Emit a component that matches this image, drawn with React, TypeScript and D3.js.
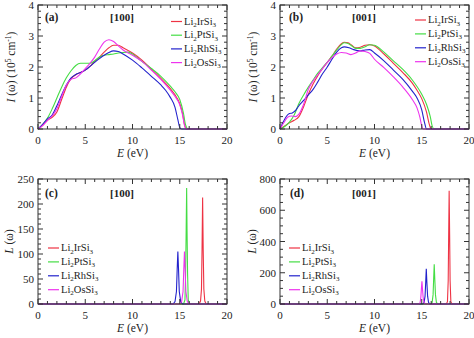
import React from "react";
import * as d3 from "d3";

type P = [number, number];

const names = ["Li2IrSi3", "Li2PtSi3", "Li2RhSi3", "Li2OsSi3"];
const colors = ["#ee3344", "#44dd44", "#2222cc", "#ee33ee"];

// Panel (a): I(w) [100], 10^5 cm^-1
const aIr: P[] = [[0,0],[0.5,0.12],[1,0.28],[1.5,0.38],[2,0.55],[2.5,0.95],[3,1.35],[3.5,1.62],[4,1.75],[4.5,1.82],[5,1.9],[5.5,2.02],[6,2.18],[6.5,2.32],[7,2.48],[7.5,2.62],[8,2.7],[8.5,2.7],[9,2.62],[10,2.45],[11,2.22],[12,1.93],[13,1.63],[14,1.3],[14.5,1.1],[15,0.82],[15.3,0.5],[15.5,0.15],[15.7,0],[20,0]];
const aPt: P[] = [[0,0],[0.5,0.15],[1,0.35],[1.5,0.65],[2,1.0],[2.5,1.35],[3,1.65],[3.5,1.88],[4,2.05],[4.5,2.12],[5,2.12],[5.5,2.12],[6,2.2],[6.5,2.32],[7,2.38],[7.5,2.4],[8,2.42],[8.5,2.45],[9,2.47],[9.5,2.48],[10,2.42],[10.5,2.3],[11,2.18],[12,1.95],[13,1.7],[14,1.38],[14.5,1.2],[15,0.95],[15.4,0.5],[15.6,0.15],[15.9,0],[20,0]];
const aRh: P[] = [[0,0],[0.5,0.15],[1,0.33],[1.5,0.45],[2,0.75],[2.5,1.1],[3,1.42],[3.5,1.65],[4,1.76],[4.5,1.82],[5,1.9],[5.5,2.02],[6,2.15],[6.5,2.27],[7,2.38],[7.5,2.47],[8,2.52],[8.5,2.5],[9,2.42],[10,2.22],[11,1.97],[12,1.7],[13,1.42],[13.5,1.25],[14,1.02],[14.5,0.7],[14.8,0.3],[15,0.05],[15.2,0],[20,0]];
const aOs: P[] = [[0,0],[0.5,0.12],[1,0.28],[1.5,0.42],[2,0.65],[2.5,1.05],[3,1.42],[3.5,1.6],[4,1.65],[4.5,1.78],[5,1.95],[5.5,2.12],[6,2.32],[6.5,2.58],[7,2.8],[7.5,2.88],[8,2.82],[8.5,2.68],[9,2.55],[10,2.38],[11,2.18],[12,1.9],[13,1.6],[14,1.25],[14.5,1.05],[15,0.78],[15.3,0.45],[15.5,0.12],[15.7,0],[20,0]];

// Panel (b): I(w) [001]
const bIr: P[] = [[0,0],[0.5,0.1],[1,0.2],[1.5,0.28],[2,0.4],[2.5,0.72],[3,1.12],[3.5,1.45],[4,1.72],[4.5,1.95],[5,2.15],[5.5,2.35],[6,2.58],[6.5,2.75],[6.8,2.8],[7.2,2.78],[7.6,2.7],[8,2.62],[8.5,2.64],[9,2.7],[9.5,2.72],[10,2.68],[11,2.42],[12,2.12],[13,1.82],[14,1.48],[14.5,1.25],[15,0.98],[15.5,0.55],[15.8,0.15],[16,0],[20,0]];
const bPt: P[] = [[0,0],[0.5,0.08],[1,0.22],[1.5,0.45],[2,0.82],[2.5,1.1],[3,1.35],[3.5,1.58],[4,1.8],[4.5,1.98],[5,2.15],[5.5,2.35],[6,2.55],[6.5,2.72],[6.8,2.78],[7.2,2.76],[7.6,2.68],[8,2.6],[8.5,2.6],[9,2.65],[9.5,2.72],[10,2.7],[11,2.48],[12,2.2],[13,1.92],[14,1.58],[15,1.12],[15.5,0.8],[15.9,0.4],[16.1,0.1],[16.3,0],[20,0]];
const bRh: P[] = [[0,0],[0.3,0.2],[0.7,0.42],[1,0.5],[1.3,0.52],[1.7,0.62],[2,0.75],[2.5,0.92],[3,1.1],[3.5,1.28],[4,1.52],[4.5,1.78],[5,2.0],[5.5,2.25],[6,2.48],[6.5,2.62],[6.8,2.65],[7.3,2.62],[7.8,2.56],[8.5,2.52],[9,2.55],[9.5,2.56],[10,2.45],[11,2.2],[12,1.9],[13,1.6],[14,1.22],[14.5,1.0],[15,0.62],[15.3,0.2],[15.5,0],[20,0]];
const bOs: P[] = [[0,0],[0.4,0.2],[0.8,0.38],[1.2,0.42],[1.6,0.4],[2,0.48],[2.5,0.8],[3,1.28],[3.5,1.55],[4,1.75],[4.5,1.95],[5,2.15],[5.5,2.3],[6,2.42],[6.5,2.47],[7,2.45],[7.5,2.4],[8,2.45],[8.5,2.52],[9,2.5],[9.5,2.44],[10,2.25],[11,1.98],[12,1.68],[13,1.35],[14,0.95],[14.5,0.68],[14.8,0.38],[15,0.1],[15.15,0],[20,0]];

// Panel (c): L(w) [100]
const cIr: P[] = [[0,0],[17.05,0],[17.2,6],[17.3,30],[17.36,110],[17.42,213],[17.48,110],[17.55,30],[17.65,6],[17.8,0],[20,0]];
const cPt: P[] = [[0,0],[15.4,0],[15.55,8],[15.62,60],[15.68,150],[15.73,232],[15.77,150],[15.83,60],[15.9,8],[16.05,0],[20,0]];
const cRh: P[] = [[0,0],[14.3,0],[14.5,5],[14.65,25],[14.73,70],[14.8,105],[14.87,70],[14.95,25],[15.1,5],[15.3,0],[20,0]];
const cOs: P[] = [[0,0],[15.0,0],[15.2,5],[15.35,25],[15.43,70],[15.5,105],[15.57,70],[15.65,25],[15.8,5],[16.0,0],[20,0]];

// Panel (d): L(w) [001]
const dIr: P[] = [[0,0],[17.6,0],[17.72,15],[17.8,150],[17.85,450],[17.9,725],[17.95,450],[18.0,150],[18.08,15],[18.2,0],[20,0]];
const dPt: P[] = [[0,0],[15.95,0],[16.1,10],[16.2,60],[16.26,160],[16.32,255],[16.38,160],[16.45,60],[16.55,10],[16.7,0],[20,0]];
const dRh: P[] = [[0,0],[15.1,0],[15.25,10],[15.35,50],[15.42,140],[15.48,225],[15.54,140],[15.62,50],[15.72,10],[15.85,0],[20,0]];
const dOs: P[] = [[0,0],[14.7,0],[14.82,8],[14.9,40],[14.96,95],[15.02,145],[15.08,95],[15.15,40],[15.25,8],[15.4,0],[20,0]];

const xTicks = [0, 5, 10, 15, 20];
const iTicks = [0, 1, 2, 3, 4];
const cTicks = [0, 50, 100, 150, 200, 250];
const dTicks = [0, 200, 400, 600, 800];

const FONT = "Liberation Serif, Times New Roman, DejaVu Serif, serif";

interface PanelProps {
  x0: number; x1: number; y0: number; y1: number;
  yMax: number; yTicks: number[]; yMinor: number;
  series: P[][];
  tag: string; dir: string;
  yLabel: "I" | "L";
  ylabX: number;
  legX: number; legY: number; legDy: number;
  tagX: number; dirX: number; tagY: number;
  curve: any;
}

function Formula({ base, x, y }: { base: number; x: number; y: number }) {
  const metal = names[base].slice(3, 5);
  return (
    <text x={x} y={y} fontSize={10.5} fill="#222">
      Li<tspan fontSize={7} dy={2.5}>2</tspan>
      <tspan dy={-2.5}>{metal}Si</tspan>
      <tspan fontSize={7} dy={2.5}>3</tspan>
    </text>
  );
}

function Panel(p: PanelProps) {
  const xs = d3.scaleLinear().domain([0, 20]).range([p.x0, p.x1]);
  const ys = d3.scaleLinear().domain([0, p.yMax]).range([p.y0, p.y1]);
  const line = d3.line<P>().x((d) => xs(d[0])).y((d) => ys(d[1])).curve(p.curve);
  const xMinor = d3.range(0, 20.001, 1);
  const yMinor = d3.range(0, p.yMax + 1e-6, p.yMinor);
  const tk = (v: number, arr: number[]) => arr.some((t) => Math.abs(t - v) < 1e-6);
  return (
    <g>
      {p.series.map((s, i) => (
        <path key={i} d={line(s) || ""} fill="none" stroke={colors[i]} strokeWidth={1.1} />
      ))}
      <rect x={p.x0} y={p.y1} width={p.x1 - p.x0} height={p.y0 - p.y1} fill="none" stroke="#333" strokeWidth={1} />
      {xMinor.map((v) => {
        const L = tk(v, xTicks) ? 5 : 3;
        return (
          <g key={"x" + v}>
            <line x1={xs(v)} x2={xs(v)} y1={p.y0} y2={p.y0 - L} stroke="#333" />
            <line x1={xs(v)} x2={xs(v)} y1={p.y1} y2={p.y1 + L} stroke="#333" />
          </g>
        );
      })}
      {yMinor.map((v) => {
        const L = tk(v, p.yTicks) ? 5 : 3;
        return (
          <g key={"y" + v}>
            <line x1={p.x0} x2={p.x0 + L} y1={ys(v)} y2={ys(v)} stroke="#333" />
            <line x1={p.x1} x2={p.x1 - L} y1={ys(v)} y2={ys(v)} stroke="#333" />
          </g>
        );
      })}
      {xTicks.map((v) => (
        <text key={"xl" + v} x={xs(v)} y={p.y0 + 15} textAnchor="middle" fontSize={11} fill="#222">{v}</text>
      ))}
      {p.yTicks.map((v) => (
        <text key={"yl" + v} x={p.x0 - 4} y={ys(v) + 4} textAnchor="end" fontSize={11} fill="#222">{v}</text>
      ))}
      <text x={(p.x0 + p.x1) / 2} y={p.y0 + 28} textAnchor="middle" fontSize={11.5} fill="#222">
        <tspan fontStyle="italic">E</tspan> (eV)
      </text>
      <g transform={`translate(${p.ylabX},${(p.y0 + p.y1) / 2}) rotate(-90)`}>
        {p.yLabel === "I" ? (
          <text textAnchor="middle" fontSize={11.5} fill="#222" dy={4}>
            <tspan fontStyle="italic">I</tspan> (ω) (10<tspan fontSize={7.5} dy={-4}>5</tspan>
            <tspan dy={4}> cm</tspan><tspan fontSize={7.5} dy={-4}>-1</tspan><tspan dy={4}>)</tspan>
          </text>
        ) : (
          <text textAnchor="middle" fontSize={11.5} fill="#222" dy={4}>
            <tspan fontStyle="italic">L</tspan> (ω)
          </text>
        )}
      </g>
      <text x={p.tagX} y={p.tagY} fontSize={11.5} fontWeight="bold" fill="#222">{p.tag}</text>
      <text x={p.dirX} y={p.tagY} textAnchor="middle" fontSize={11} fontWeight="bold" fill="#222">{p.dir}</text>
      {names.map((n, i) => (
        <g key={n}>
          <line x1={p.legX} x2={p.legX + 11} y1={p.legY + i * p.legDy} y2={p.legY + i * p.legDy} stroke={colors[i]} strokeWidth={1.2} />
          <Formula base={i} x={p.legX + 13} y={p.legY + i * p.legDy + 3} />
        </g>
      ))}
    </g>
  );
}

export default function App() {
  return (
    <svg width={474} height={338} style={{ position: "absolute", left: 0, top: 0, background: "#fff", fontFamily: FONT }}>
      <rect width={474} height={338} fill="#fff" />
      <Panel x0={38} x1={227} y0={129} y1={5} yMax={4} yTicks={iTicks} yMinor={0.2}
        series={[aIr, aPt, aRh, aOs]} tag="(a)" dir="[100]" yLabel="I" ylabX={11}
        legX={171} legY={21.5} legDy={13.7} tagX={45} dirX={122} tagY={21} curve={d3.curveMonotoneX} />
      <Panel x0={280} x1={469} y0={129} y1={5} yMax={4} yTicks={iTicks} yMinor={0.2}
        series={[bIr, bPt, bRh, bOs]} tag="(b)" dir="[001]" yLabel="I" ylabX={253}
        legX={415} legY={20} legDy={13.9} tagX={289} dirX={364} tagY={21} curve={d3.curveMonotoneX} />
      <Panel x0={38} x1={227} y0={304} y1={179} yMax={250} yTicks={cTicks} yMinor={10}
        series={[cIr, cPt, cRh, cOs]} tag="(c)" dir="[100]" yLabel="L" ylabX={9}
        legX={48} legY={248} legDy={13.9} tagX={45} dirX={122} tagY={197} curve={d3.curveLinear} />
      <Panel x0={280} x1={469} y0={304} y1={179} yMax={800} yTicks={dTicks} yMinor={50}
        series={[dIr, dPt, dRh, dOs]} tag="(d)" dir="[001]" yLabel="L" ylabX={252}
        legX={289} legY={248} legDy={13.9} tagX={290} dirX={364} tagY={197} curve={d3.curveLinear} />
    </svg>
  );
}
